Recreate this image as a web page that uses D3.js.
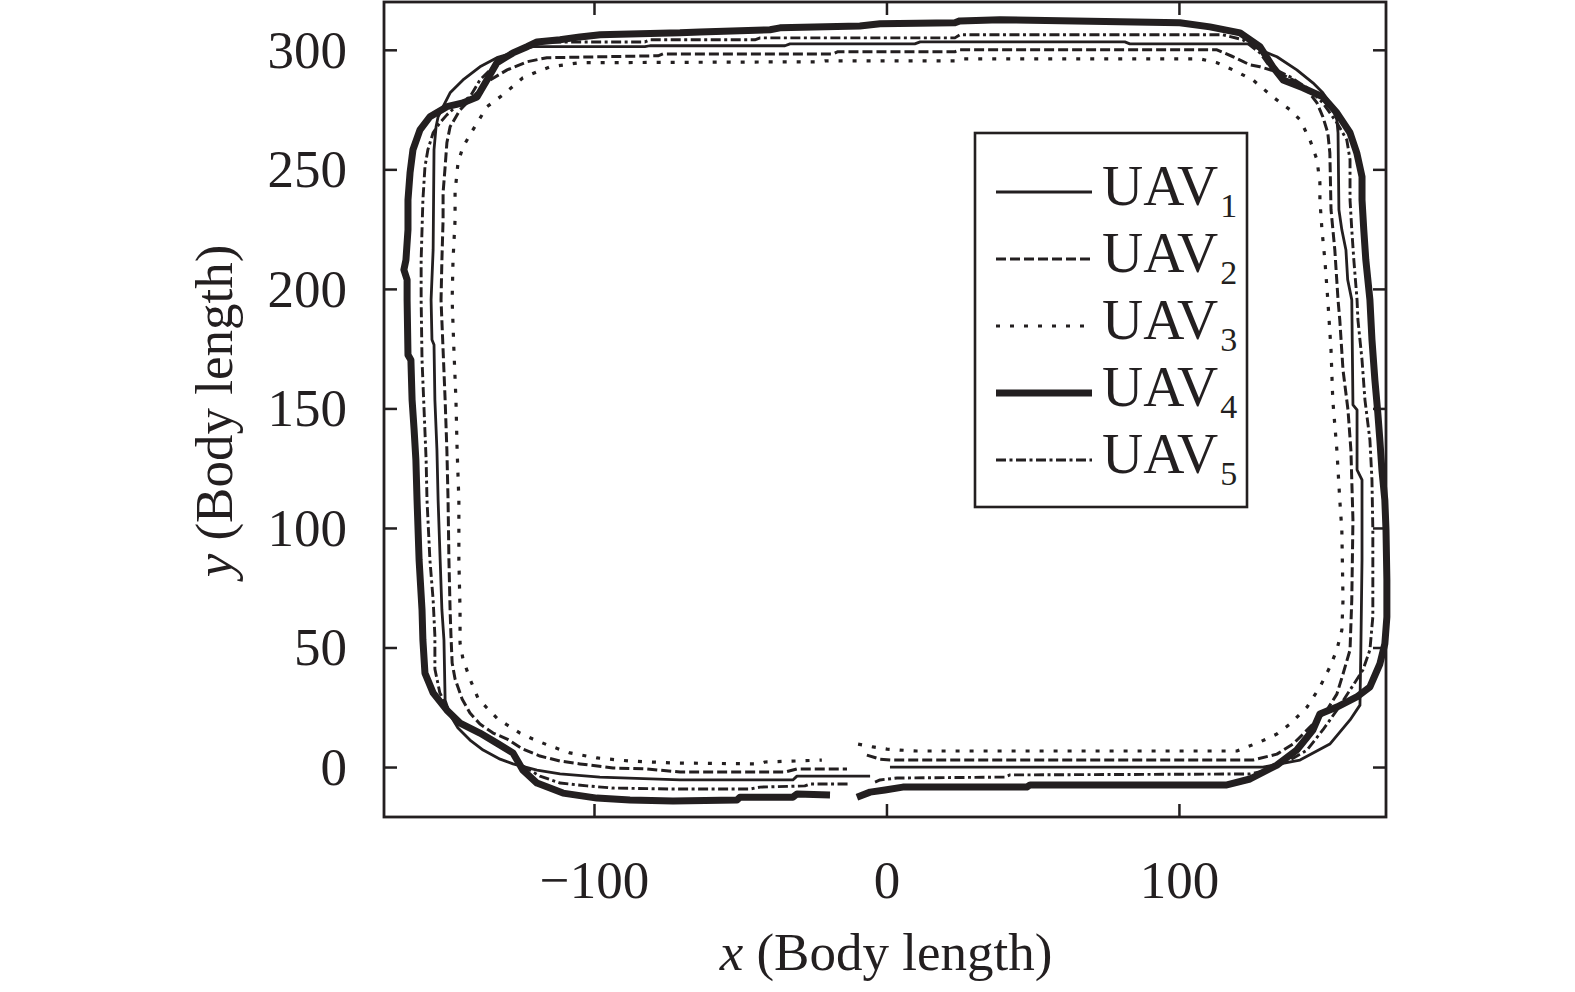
<!DOCTYPE html>
<html>
<meta charset="utf-8">
<style>
  body { margin: 0; background: #fff; }
  text { font-family: "Liberation Serif", "Times New Roman", serif; fill: #231f20; }
</style>
<script src="https://d3js.org/d3.v7.min.js"></script>
<body>
<script>
  var svgWidth = 1575, svgHeight = 992;

  // tick values
  var xTicks = [-100, 0, 100];
  var yTicks = [0, 50, 100, 150, 200, 250, 300];

  var names = ["UAV1", "UAV2", "UAV3", "UAV4", "UAV5"];

  // trajectories, [x, y] in body lengths
  var uav1 = [[1.2,0],[128.7,0],[141.4,2.9],[151.6,9.6],[158.5,19.7],[161.9,25.9],[162.2,49],[162.6,86.6],[162.6,120.1],[160.9,124.3],[160.9,149.4],[159.5,151.5],[159.1,195.4],[157.7,203.8],[157.1,216.3],[155.7,224.7],[154.7,233.1],[154.4,265.3],[154,270.7],[152.3,276.2],[149.2,282],[145.8,286.2],[140.3,291.6],[133.5,297.1],[127.7,300],[124.3,302.5],[83.2,302.5],[81.5,303.3],[11.5,303.3],[9.7,302.5],[-33,302.5],[-34.7,301.7],[-80.9,301.7],[-82.6,301.3],[-120.9,301.3],[-127.7,298.7],[-133.2,296.7],[-139,292.9],[-144.8,287.4],[-149.2,282],[-151.6,276.2],[-153.3,272],[-154,267.8],[-154.7,258.2],[-155,216.3],[-155.7,195.4],[-155.4,178.7],[-154.7,176.6],[-154.4,153.6],[-153.7,132.6],[-153.3,111.7],[-152.6,86.6],[-152,65.7],[-151.3,53.1],[-150.9,28],[-149.2,21.8],[-146.5,16.3],[-142.4,11.3],[-137.9,7.1],[-132.1,3.3],[-127.7,1.3],[-119.5,-1.3],[-111.6,-2.9],[-98,-4.2],[-70.6,-5.4],[-32,-5.4],[-30.6,-3.8],[-5.6,-3.8]];

  var uav2 = [[-6.7,5],[-2.2,3.3],[2.2,2.9],[125.3,2.9],[133.5,5.4],[139,9.6],[144.8,16.7],[150.6,23.8],[154,30.5],[156.1,38.9],[158.5,49],[159.1,69.9],[159.5,103.3],[158.8,132.6],[157.8,149.4],[156.1,166.1],[155,187],[154.4,195.4],[153.3,216.3],[152,233.1],[151.6,256.9],[150.9,265.3],[149.2,272],[147.2,277.8],[143.8,283.3],[139,287.4],[133.5,290.8],[127.7,292.9],[124.3,293.7],[118.5,297.1],[113,300],[25.1,300],[23.4,299.2],[-16.6,299.2],[-18.3,298.3],[-76.4,298.3],[-78.1,297.5],[-116.1,296.7],[-122.9,295],[-129.7,291.6],[-135.5,287.4],[-141.4,280.3],[-145.8,274.9],[-149.2,267.8],[-150.3,261.1],[-150.9,251],[-151.6,240.2],[-151.6,228.9],[-152,212.1],[-152.3,195.4],[-151.6,174.5],[-150.9,153.6],[-150.3,132.6],[-149.9,111.7],[-149.6,86.6],[-149.2,65.7],[-148.9,54.8],[-148.5,43.5],[-147.5,36.8],[-145.1,28.5],[-142.4,22.6],[-139,18],[-134.5,14.2],[-129.7,11.7],[-124.3,7.5],[-118.5,4.6],[-111.6,2.5],[-104.8,1.3],[-93.5,-0.4],[-81.9,-0.8],[-70.6,-2.1],[-34.7,-2.1],[-30.6,-0.8],[-13.5,-0.8]];

  var uav3 = [[-9.7,9.6],[-4.6,8.4],[0.2,7.5],[4.6,7.1],[10.4,6.7],[119.8,6.7],[127.7,10.5],[133.5,13.8],[138,18],[143.8,25.1],[148.2,33.5],[151.6,41.8],[154,49],[155.7,57.3],[156.1,69.9],[155.7,99.2],[155,111.7],[154,132.6],[152.6,153.6],[152,174.5],[150.9,195.4],[149.9,212.1],[148.9,224.7],[148.2,237.2],[148.2,244.4],[147.2,254],[144.8,262.3],[141.4,270.7],[138,274.9],[132.1,280.3],[125.3,287.4],[118.5,291.6],[113,294.6],[107.2,296.2],[25.1,296.2],[23.4,295.4],[-21,295.4],[-22.7,295],[-104.8,294.6],[-115,292.9],[-119.5,290.8],[-124.3,288.3],[-131.1,281.2],[-136.6,276.2],[-141.4,266.5],[-144.8,259.4],[-146.5,252.7],[-147.5,240.6],[-147.5,228.9],[-148.2,212.1],[-148.5,195.4],[-147.9,174.5],[-147.2,153.6],[-146.8,132.6],[-146.2,111.7],[-146.2,86.6],[-145.8,65.7],[-145.8,51.9],[-144.8,45.2],[-142.4,36.8],[-139.7,28.9],[-136.6,24.7],[-133.2,20.5],[-129.7,17.6],[-125.3,14.2],[-120.9,11.7],[-115,8.8],[-108.2,5.9],[-99,3.8],[-87.7,2.5],[-73,1.7],[-43.2,1.3],[-41.5,2.1],[-22.1,2.9]];

  var uav4 = [[-10.1,-12.6],[-5.6,-10.5],[-0.5,-9.6],[5.6,-8.4],[48,-8.4],[49.1,-7.5],[116.4,-7.5],[124.3,-5],[133.5,0.8],[140.3,7.1],[145.8,15.5],[148.2,22.2],[154,25.1],[160.8,29.3],[165.3,33.5],[168.7,43.1],[170.4,51.5],[171.1,62.8],[171.1,78.2],[170.8,99.2],[170.4,111.7],[169.4,124.3],[168.7,136.8],[168,148.1],[167,161.9],[166,178.7],[165.3,195.4],[163.9,212.1],[163.2,224.7],[162.6,237.2],[162.6,246.9],[160.8,256.9],[158.5,265.3],[154,273.6],[149.2,280.3],[142.4,284.1],[135.6,287.4],[132.1,292.9],[127.7,301.3],[120.9,307.1],[110.6,309.6],[100.3,311.3],[79.8,311.7],[38.8,312.6],[25.1,312.1],[23.4,311.3],[-2.2,310.9],[-9.1,310],[-36.4,309.2],[-39.8,308.4],[-63.8,307.5],[-70.6,307.1],[-97.9,306.3],[-104.8,305.4],[-111.6,304.2],[-119.5,303.3],[-122.9,301.3],[-127.7,298.7],[-133.2,294.6],[-136.6,287.4],[-140,280.3],[-144.8,277.8],[-150.3,276.2],[-156.1,272],[-159.5,266.5],[-161.9,258.2],[-162.9,248.5],[-163.6,237.2],[-163.6,224.7],[-164.3,212.1],[-165,208],[-163.9,203.8],[-163.9,195.4],[-163.6,172.4],[-162.6,170.3],[-162.2,153.6],[-161.5,141],[-160.9,128.5],[-160.5,111.7],[-159.8,86.6],[-158.8,65.7],[-158.5,53.1],[-157.8,39.3],[-155,31],[-150.3,23.8],[-145.8,18.4],[-139,14.2],[-133.2,10],[-127.7,5.9],[-124.3,-1.3],[-119.5,-6.7],[-110.6,-10.9],[-99,-13],[-87.7,-13.8],[-73,-14.2],[-51.1,-13.8],[-50.1,-12.6],[-32,-12.6],[-30.6,-11.3],[-19.3,-11.7]];

  var uav5 = [[-3.9,-6.3],[-2.2,-5.4],[3.6,-4.6],[40.5,-4.2],[42.2,-3.3],[124.3,-2.9],[130.1,-1.3],[138,2.9],[143.8,7.1],[149.2,15.5],[154,23.8],[158.5,32.2],[162.9,40.6],[165.3,49],[166.3,62.8],[166.3,78.2],[166.3,99.2],[166,120.1],[165.3,136.8],[163.6,153.6],[162.6,170.3],[161.2,187],[160.9,195.4],[159.8,212.1],[159.1,224.7],[158.5,237.2],[158.5,254],[157.4,262.3],[154,269.5],[149.2,277.8],[144.8,283.3],[138,288.7],[131.1,292.9],[127.7,298.7],[121.9,304.2],[115,306.3],[25.1,306.3],[23.4,305],[-43.2,305],[-45,304.2],[-80.9,304.2],[-82.6,303.3],[-116.8,303.3],[-125.3,300],[-131.1,295.8],[-135.5,291.6],[-139,287.4],[-142.4,280.3],[-145.8,277.8],[-150.3,272.8],[-152.7,269.5],[-155,265.3],[-156.8,258.2],[-157.8,251],[-158.5,237.2],[-158.8,224.7],[-159.1,212.1],[-159.1,195.4],[-158.8,170.3],[-158.1,149.4],[-157.4,128.5],[-157.1,111.7],[-156.1,86.6],[-155,69.9],[-154.4,54.8],[-154.4,41],[-152.7,31],[-149.2,22.6],[-144.8,17.2],[-139,14.2],[-134.5,11.7],[-129.7,7.5],[-124.3,0.4],[-118.5,-3.8],[-111.6,-6.7],[-102.4,-7.9],[-93.5,-8.8],[-73,-9.2],[-46.7,-9.2],[-43.2,-8.4],[-27.9,-7.9],[-26.2,-7.1],[-13.2,-7.1]];

  var series = [uav1, uav2, uav3, uav4, uav5];

  // line styles per UAV
  var widths = [2.8, 3, 3.2, 7, 2.9];
  var dashes = [null, "10,4", "4,10", null, "10,3.5,3,3.5"];

  var plotL = 384, plotR = 1386, plotT = 2, plotB = 817;

  var x = d3.scaleLinear().domain([-171.8, 170.8]).range([plotL, plotR]);
  var y = d3.scaleLinear().domain([-20.9, 320]).range([plotB, plotT]);

  var svg = d3.select("body")
    .append("svg")
    .attr("width", svgWidth)
    .attr("height", svgHeight);

  svg.append("rect").attr("width", svgWidth).attr("height", svgHeight).attr("fill", "#fff");

  var line = d3.line()
    .x(function(d){ return x(d[0]); })
    .y(function(d){ return y(d[1]); });

  var g = svg.append("g");

  g.selectAll(".traj")
    .data(series)
    .enter()
    .append("path")
    .attr("class", "traj")
    .attr("d", line)
    .attr("fill", "none")
    .attr("stroke", "#231f20")
    .attr("stroke-linejoin", "round")
    .attr("stroke-width", function(d, i){ return widths[i]; })
    .attr("stroke-dasharray", function(d, i){ return dashes[i]; });

  // axes, ticks inward on all four sides
  var tickLen = 13;
  var fmt = function(d){ return d < 0 ? "\u2212" + Math.abs(d) : d; };

  var xAxis = svg.append("g")
    .attr("transform", "translate(0," + plotB + ")")
    .call(d3.axisBottom(x).tickValues(xTicks).tickSize(-tickLen).tickPadding(64).tickFormat(fmt));
  var xTop = svg.append("g")
    .attr("transform", "translate(0," + plotT + ")")
    .call(d3.axisTop(x).tickValues(xTicks).tickSize(-tickLen).tickFormat(""));
  var yAxis = svg.append("g")
    .attr("transform", "translate(" + plotL + ",0)")
    .call(d3.axisLeft(y).tickValues(yTicks).tickSize(-tickLen).tickPadding(37).tickFormat(fmt));
  var yRight = svg.append("g")
    .attr("transform", "translate(" + plotR + ",0)")
    .call(d3.axisRight(y).tickValues(yTicks).tickSize(-tickLen).tickFormat(""));

  [xAxis, xTop, yAxis, yRight].forEach(function(a){
    a.select(".domain").remove();
    a.selectAll(".tick line").attr("stroke", "#231f20").attr("stroke-width", 2.5);
    a.selectAll(".tick text")
      .attr("font-family", "Liberation Serif, Times New Roman, serif")
      .attr("font-size", 53)
      .attr("fill", "#231f20");
  });
  xAxis.selectAll(".tick text").attr("dy", "0.32em");
  yAxis.selectAll(".tick text").attr("dy", "0.33em");

  svg.append("rect")
    .attr("x", plotL).attr("y", plotT)
    .attr("width", plotR - plotL).attr("height", plotB - plotT)
    .attr("fill", "none")
    .attr("stroke", "#231f20")
    .attr("stroke-width", 2.8);

  // axis titles
  var xt = svg.append("text")
    .attr("x", 886).attr("y", 970)
    .attr("text-anchor", "middle")
    .attr("font-size", 53);
  xt.append("tspan").attr("font-style", "italic").text("x");
  xt.append("tspan").text(" (Body length)");

  var yt = svg.append("text")
    .attr("transform", "translate(232,411) rotate(-90)")
    .attr("text-anchor", "middle")
    .attr("font-size", 53);
  yt.append("tspan").attr("font-style", "italic").text("y");
  yt.append("tspan").text(" (Body length)");

  // legend
  var lg = svg.append("g");
  lg.append("rect")
    .attr("x", 975).attr("y", 133)
    .attr("width", 272).attr("height", 374)
    .attr("fill", "#fff")
    .attr("stroke", "#231f20")
    .attr("stroke-width", 2.6);

  var rowY = d3.scalePoint().domain(names).range([192, 460]);

  var item = lg.selectAll(".item")
    .data(names)
    .enter()
    .append("g")
    .attr("class", "item")
    .attr("transform", function(d){ return "translate(0," + rowY(d) + ")"; });

  item.append("line")
    .attr("x1", 996).attr("x2", 1092)
    .attr("stroke", "#231f20")
    .attr("stroke-width", function(d, i){ return widths[i]; })
    .attr("stroke-dasharray", function(d, i){ return dashes[i]; });

  var label = item.append("text")
    .attr("x", 1102).attr("y", 13)
    .attr("font-size", 57);
  label.append("tspan").text(function(d){ return d.slice(0, 3); });
  label.append("tspan")
    .attr("font-size", 34)
    .attr("dx", 2)
    .attr("dy", 12)
    .text(function(d){ return d.slice(3); });
</script>
</body>
</html>
